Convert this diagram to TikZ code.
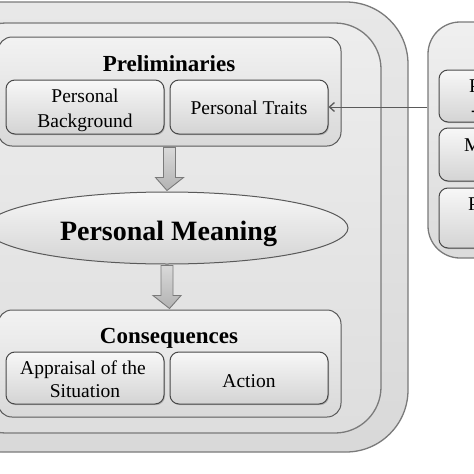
\documentclass[tikz,border=0pt]{standalone}
\usepackage{fontspec}
\setmainfont{Liberation Serif}
\usetikzlibrary{calc,arrows.meta,shapes.geometric,shadows}
\definecolor{edge}{HTML}{5A5A5A}
\definecolor{edgeL}{HTML}{7A7A7A}
\tikzset{
  bigbox/.style={draw=edgeL, line width=1.3pt, rectangle, inner sep=0pt},
  groupbox/.style={draw=edge, line width=1pt, rectangle, rounded corners=14pt, inner sep=0pt,
     top color=white!95!black, bottom color=white!85!black},
  subbox/.style={draw=edge!80!black, line width=1pt, rectangle, rounded corners=9pt, inner sep=0pt,
     top color=white!97!black, bottom color=white!83!black,
     drop shadow={shadow xshift=1pt, shadow yshift=-1.2pt, opacity=0.35, fill=black!60}},
  title/.style={font=\fontsize{23}{26}\selectfont\bfseries, anchor=base},
  label/.style={font=\fontsize{19.5}{24}\selectfont, anchor=base, align=center},
  edgelabel/.style={font=\fontsize{19.5}{24}\selectfont, anchor=base west, inner sep=0pt},
  blockarrow/.style={draw=edgeL, line width=0.9pt, top color=white!85!black, bottom color=white!70!black, line join=miter},
  link/.style={draw=edge, line width=1pt, -{Straight Barb[length=5pt,width=9pt,line width=1.3pt]}}
}
\begin{document}
\begin{tikzpicture}[x=1pt,y=-1pt]
\useasboundingbox (0,0) rectangle (474,474);
\clip (0,0) rectangle (474,474);
\fill[white] (0,0) rectangle (474,474);
% outer boxes
\node[bigbox, rounded corners=62pt, minimum width=468pt, minimum height=450pt,
      top color=white!91!black, bottom color=white!85!black] (outer) at (174,227) {};
\node[bigbox, rounded corners=46pt, minimum width=421pt, minimum height=410pt,
      top color=white!93!black, bottom color=white!87!black] (inner) at (170.5,228) {};
% preliminaries
\node[groupbox, minimum width=343pt, minimum height=109pt] (prelim) at (169.5,91.5) {};
\node[title] (prelimT) at (169,71) {Preliminaries};
\node[subbox, minimum width=158pt, minimum height=54pt] (bg) at (85,107) {};
\node[label] (bgT) at (85,102) {Personal};
\node[label] (bgT2) at (85,127) {Background};
\node[subbox, minimum width=158pt, minimum height=54pt] (traits) at (249,107) {};
\node[label] (traitsT) at (249,114) {Personal Traits};
% personal meaning
\node[ellipse, draw=edge, line width=1pt, minimum width=362pt, minimum height=72pt, inner sep=0pt,
      top color=white!97!black, bottom color=white!83!black] (mean) at (167,228) {};
\node[font=\fontsize{28}{32}\selectfont\bfseries, anchor=base] (meanT) at (168.5,240) {Personal Meaning};
% consequences
\node[groupbox, minimum width=343pt, minimum height=107pt] (conseq) at (169.5,363.5) {};
\node[title] (conseqT) at (169,343) {Consequences};
\node[subbox, minimum width=158pt, minimum height=52pt] (appr) at (85,378) {};
\node[label] (apprT) at (83,374) {Appraisal of the};
\node[label] (apprT2) at (85,397) {Situation};
\node[subbox, minimum width=158pt, minimum height=52pt] (act) at (249,378) {};
\node[label] (actT) at (249,387) {Action};
% block arrows
\path[blockarrow] ($(prelim.south)+(-6,1)$) -- ($(prelim.south)+(-6,31)$) -- ++(-8,0)
   -- ($(mean.north)+(0,-1)$) -- ($(prelim.south)+(14,31)$) -- ++(-8,0) -- ($(prelim.south)+(6,1)$) -- cycle;
\path[blockarrow] ($(mean.south)+(-6,1)$) -- ($(mean.south)+(-6,31)$) -- ++(-8,0)
   -- ($(conseq.north)+(0,-1)$) -- ($(mean.south)+(14,31)$) -- ++(-8,0) -- ($(mean.south)+(6,1)$) -- cycle;
% right box
\node[bigbox, rounded corners=32pt, minimum width=172pt, minimum height=236pt,
      top color=white!94!black, bottom color=white!86!black] (right) at (514,140) {};
\node[subbox, minimum width=161pt, minimum height=52pt] (r1) at (519.5,96) {};
\node[edgelabel] (r1T) at (469,92) {Personality};
\node[edgelabel] (r1T2) at (471,116) {-factors};
\node[subbox, minimum width=161pt, minimum height=53pt] (r2) at (519.5,154.5) {};
\node[edgelabel] (r2T) at (464,151) {Motivation};
\node[subbox, minimum width=161pt, minimum height=60pt] (r3) at (519.5,218) {};
\node[edgelabel] (r3T) at (468,210) {Preferences};
% link
\draw[link] (traits.east -| right.west) -- (traits.east);
\end{tikzpicture}
\end{document}
